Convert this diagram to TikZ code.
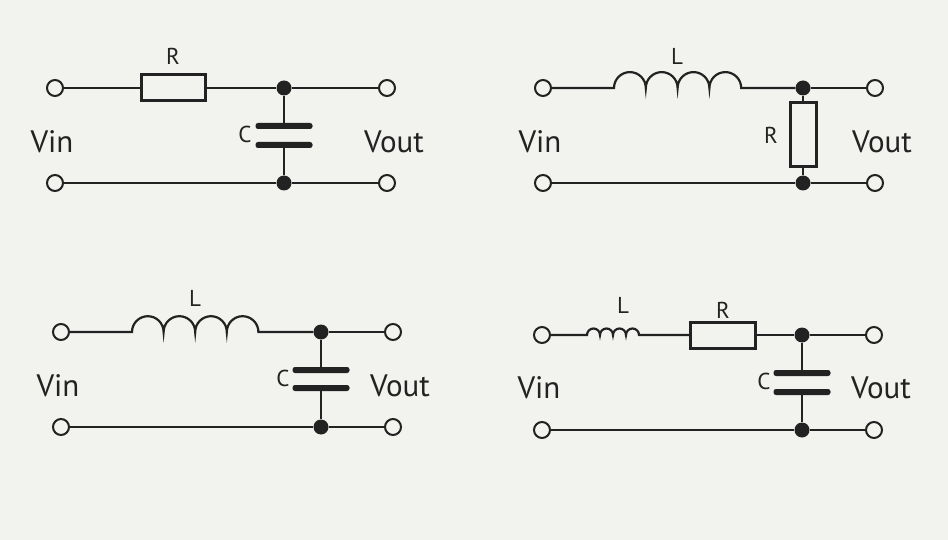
\documentclass[tikz,border=0pt]{standalone}
\usepackage{fontspec}
\setmainfont{PT Sans}
\definecolor{paper}{HTML}{F2F2EF}
\definecolor{ink}{HTML}{222222}
\newcommand{\humps}[1]{arc[start angle=180,end angle=360,radius=#1] arc[start angle=180,end angle=360,radius=#1] arc[start angle=180,end angle=360,radius=#1] arc[start angle=180,end angle=360,radius=#1]}
\tikzset{
    wire/.style={draw=ink,line width=2.2pt},
    term/.style={circle,draw=ink,line width=2pt,fill=paper,minimum size=16pt,inner sep=0pt},
    junc/.style={circle,fill=ink,minimum size=15pt,inner sep=0pt},
    res/.style={rectangle,draw=ink,line width=3pt,fill=paper,inner sep=0pt},
    plate/.style={rectangle,rounded corners=2.5pt,fill=ink,minimum width=57pt,minimum height=6pt,inner sep=0pt},
    lab/.style={text=ink,font=\fontsize{23}{26}\selectfont,inner sep=0pt},
    big/.style={text=ink,font=\fontsize{31}{34}\selectfont,inner sep=0pt},
}
\begin{document}
\begin{tikzpicture}[x=1pt,y=-1pt]
        \path[use as bounding box,fill=paper] (0,0) rectangle (948,540);

        \node[term] (A1) at (55,88) {};
        \node[term] (B1) at (387,88) {};
        \node[term] (C1) at (55,183) {};
        \node[term] (D1) at (387,183) {};
        \node[junc] (J1) at (284,88) {};
        \node[junc] (K1) at (284,183) {};
        \node[res,minimum width=64pt,minimum height=26pt] (R1) at (173,88) {};
        \node[plate] (P1) at (284,126) {};
        \node[plate] (Q1) at (284,145) {};
        \node[lab] (TR1) at (173,56) {R};
        \node[lab] (TC1) at (245,134) {C};
        \node[big] (Vin1) at (52,142) {Vin};
        \node[big] (Vout1) at (394,142) {Vout};
        \draw[wire] (A1)--(R1);
        \draw[wire] (R1)--(J1);
        \draw[wire] (J1)--(B1);
        \draw[wire] (C1)--(K1);
        \draw[wire] (K1)--(D1);
        \draw[wire] (J1)--(P1);
        \draw[wire] (Q1)--(K1);

        \node[term] (A2) at (543,88) {};
        \node[term] (B2) at (875,88) {};
        \node[term] (C2) at (543,183) {};
        \node[term] (D2) at (875,183) {};
        \node[junc] (J2) at (803,88) {};
        \node[junc] (K2) at (803,183) {};
        \node[res,minimum width=26pt,minimum height=64pt] (R2) at (803,135) {};
        \coordinate (L2) at (614,88);
        \node[lab] (TL2) at (677,56) {L};
        \node[lab] (TR2) at (771,135) {R};
        \node[big] (Vin2) at (540,142) {Vin};
        \node[big] (Vout2) at (882,142) {Vout};
        \draw[wire] (A2)--(L2) \humps{15.9} --(J2);
        \draw[wire] (J2)--(B2);
        \draw[wire] (C2)--(K2);
        \draw[wire] (K2)--(D2);
        \draw[wire] (J2)--(R2);
        \draw[wire] (R2)--(K2);

        \node[term] (A3) at (61,332) {};
        \node[term] (B3) at (393,332) {};
        \node[term] (C3) at (61,427) {};
        \node[term] (D3) at (393,427) {};
        \node[junc] (J3) at (321,332) {};
        \node[junc] (K3) at (321,427) {};
        \node[plate] (P3) at (321,370) {};
        \node[plate] (Q3) at (321,388) {};
        \coordinate (L3) at (132,332);
        \node[lab] (TL3) at (195,298) {L};
        \node[lab] (TC3) at (283,378) {C};
        \node[big] (Vin3) at (58,386) {Vin};
        \node[big] (Vout3) at (400,386) {Vout};
        \draw[wire] (A3)--(L3) \humps{15.8} --(J3);
        \draw[wire] (J3)--(B3);
        \draw[wire] (C3)--(K3);
        \draw[wire] (K3)--(D3);
        \draw[wire] (J3)--(P3);
        \draw[wire] (Q3)--(K3);

        \node[term] (A4) at (542,335) {};
        \node[term] (B4) at (874,335) {};
        \node[term] (C4) at (542,430) {};
        \node[term] (D4) at (874,430) {};
        \node[junc] (J4) at (802,335) {};
        \node[junc] (K4) at (802,430) {};
        \node[res,minimum width=65pt,minimum height=26pt] (R4) at (723,335) {};
        \node[plate] (P4) at (802,373) {};
        \node[plate] (Q4) at (802,392) {};
        \coordinate (L4) at (587,335);
        \node[lab] (TL4) at (623,305) {L};
        \node[lab] (TR4) at (723,310) {R};
        \node[lab] (TC4) at (764,381) {C};
        \node[big] (Vin4) at (539,388) {Vin};
        \node[big] (Vout4) at (881,388) {Vout};
        \draw[wire] (A4)--(L4) \humps{6.5} --(R4);
        \draw[wire] (R4)--(J4);
        \draw[wire] (J4)--(B4);
        \draw[wire] (C4)--(K4);
        \draw[wire] (K4)--(D4);
        \draw[wire] (J4)--(P4);
        \draw[wire] (Q4)--(K4);
    \end{tikzpicture}
\end{document}
